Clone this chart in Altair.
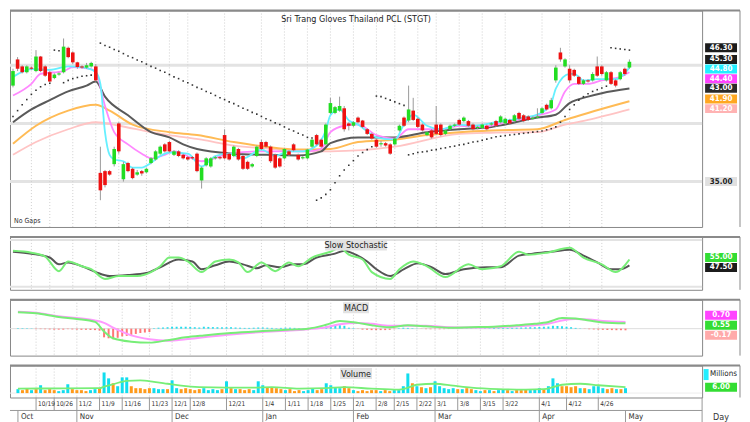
import altair as alt
import pandas as pd

TITLE = "Sri Trang Gloves Thailand PCL (STGT)"

# ---------------- candles ----------------
opens = [43.25, 45.5, 44.9, 44.4, 44.8, 44.5, 45.75, 44.9, 44.4, 43.9,
         44.2, 44.4, 46.5, 46.1, 45.25, 44.9, 44.8, 44.9, 44.9,
         35.75, 35.9, 35.9, 36.5, 40.0, 35.2, 36.6, 36.1, 35.6, 35.9, 35.8,
         36.6, 36.9, 37.4, 38.2, 38.4, 37.3, 37.6, 37.3, 37.1, 37.1,
         37.4, 35.1, 36.4, 36.3, 37.0, 37.1, 39.0, 37.4, 37.2, 37.8,
         37.2, 36.7, 36.3, 37.2, 38.4, 38.4, 38.0, 37.3, 37.0, 37.0,
         37.6, 38.2, 37.3, 37.0, 37.0, 38.0, 39.0, 38.6, 38.2, 40.9,
         40.9, 41.1, 41.3, 40.0, 39.8, 40.5, 40.25, 39.5, 39.1, 38.6,
         38.2, 38.3, 38.2, 38.2, 39.4, 40.5, 40.25, 41.1, 40.4, 39.9,
         39.0, 39.4, 39.9, 39.9, 39.1, 39.5, 39.8, 40.3, 40.2, 40.2,
         39.9, 39.6, 39.6, 39.8, 39.9, 40.2, 40.1, 40.0, 40.3, 40.2,
         40.9, 40.7, 40.6, 40.4, 40.5, 40.9, 41.6, 41.3, 43.7, 46.1,
         44.9, 44.7, 44.6, 44.0, 43.4, 43.7, 43.7, 44.9, 44.9, 43.7,
         44.4, 43.7, 43.8, 44.7, 44.8]
highs = [44.7, 45.7, 45.0, 45.0, 44.9, 46.3, 45.8, 45.0, 44.5, 44.3,
         44.4, 47.3, 46.6, 46.2, 45.3, 45.0, 45.2, 45.3, 45.1,
         38.0, 36.0, 36.0, 38.0, 40.1, 36.7, 36.7, 36.2, 36.0, 36.0, 36.2,
         37.1, 37.7, 38.1, 38.3, 38.5, 37.7, 37.7, 37.4, 37.2, 37.2,
         37.5, 36.3, 37.1, 37.1, 37.2, 37.2, 39.5, 37.5, 38.1, 37.9,
         37.3, 36.8, 36.6, 38.1, 38.6, 38.5, 38.1, 37.4, 37.1, 37.9,
         37.7, 38.3, 37.4, 37.2, 37.8, 38.7, 39.1, 38.7, 40.0, 42.2,
         41.5, 42.3, 41.5, 40.1, 40.2, 40.6, 40.3, 39.6, 39.2, 38.7,
         38.5, 38.4, 38.3, 38.8, 39.9, 40.6, 43.25, 42.2, 40.5, 40.0,
         39.35, 39.5, 41.5, 40.0, 39.5, 39.9, 40.0, 40.4, 40.6, 40.3,
         40.0, 39.8, 40.0, 39.9, 40.1, 40.3, 40.7, 40.5, 40.4, 40.8,
         41.0, 40.8, 40.7, 40.6, 41.3, 41.4, 41.7, 42.2, 45.0, 46.5,
         45.6, 45.0, 44.7, 44.1, 43.8, 43.8, 44.4, 45.75, 45.0, 44.5,
         44.5, 43.8, 44.5, 44.8, 45.5]
lows = [43.1, 44.5, 44.3, 44.3, 44.6, 44.4, 44.4, 44.0, 43.5, 43.8,
        44.1, 44.3, 45.6, 45.1, 44.7, 44.7, 44.7, 44.8, 43.6,
        33.4, 34.5, 35.5, 36.3, 37.4, 35.0, 35.8, 35.2, 35.5, 35.5, 35.7,
        36.5, 36.8, 37.3, 37.5, 37.5, 37.2, 37.1, 36.9, 36.8, 36.9,
        35.8, 34.4, 36.3, 36.2, 36.9, 36.9, 36.9, 36.8, 37.1, 36.8,
        36.0, 36.0, 36.2, 37.1, 37.7, 37.9, 36.6, 36.1, 36.2, 36.9,
        37.2, 37.6, 36.8, 36.9, 36.9, 37.9, 38.1, 37.9, 38.1, 40.8,
        40.8, 41.0, 39.3, 39.4, 39.7, 40.0, 39.6, 39.0, 38.6, 37.9,
        38.0, 38.0, 37.3, 38.1, 39.3, 39.7, 40.1, 40.2, 39.6, 39.3,
        38.9, 38.7, 39.0, 38.9, 39.0, 39.4, 39.7, 39.8, 40.1, 39.7,
        39.4, 39.5, 39.5, 39.4, 39.8, 39.7, 40.0, 39.9, 39.9, 40.1,
        40.3, 40.1, 40.2, 40.3, 40.4, 40.8, 41.1, 41.2, 43.5, 45.3,
        44.8, 43.5, 44.0, 43.3, 43.3, 43.5, 43.6, 44.0, 44.1, 43.6,
        43.3, 43.1, 43.7, 44.1, 44.7]
closes = [44.5, 44.7, 44.4, 44.9, 44.7, 45.75, 44.5, 44.1, 43.6, 44.2,
          44.3, 46.6, 45.7, 45.25, 44.85, 44.8, 45.0, 45.2, 43.7,
          34.25, 34.7, 35.6, 37.8, 37.6, 36.5, 35.9, 35.3, 35.8, 35.7, 36.1,
          37.0, 37.6, 38.0, 37.6, 37.6, 37.6, 37.2, 37.0, 36.9, 37.0,
          35.9, 36.2, 37.0, 37.0, 37.1, 37.0, 37.0, 36.9, 38.0, 36.9,
          36.1, 36.1, 36.5, 38.0, 37.8, 38.0, 36.75, 36.2, 36.3, 37.8,
          37.3, 37.7, 36.9, 37.1, 37.75, 38.6, 38.2, 38.0, 39.9, 41.75,
          41.4, 41.5, 39.5, 39.8, 40.1, 40.1, 39.7, 39.1, 38.7, 38.0,
          38.3, 38.1, 37.4, 38.7, 39.8, 39.8, 41.2, 40.3, 39.7, 39.4,
          39.25, 38.8, 39.1, 39.0, 39.4, 39.8, 39.9, 39.9, 40.5, 39.8,
          39.5, 39.7, 39.9, 39.5, 40.0, 39.8, 40.6, 40.4, 40.0, 40.7,
          40.4, 40.2, 40.3, 40.5, 40.6, 41.3, 41.2, 42.0, 44.8, 45.5,
          45.5, 43.7, 44.1, 43.4, 43.7, 43.6, 44.25, 44.1, 44.25, 44.4,
          43.4, 43.25, 44.4, 44.25, 45.3]

# parabolic SAR dots (None = no dot)
sar = [40.6, 41.1, 41.6, 42.05, 42.5, 42.85, 43.15, 43.35, 43.45,
       46.3, 46.25,
       43.5, 43.7, 43.85, 43.95, 44.05, 44.1, 44.15,
       None,
       46.9, 46.7, 46.55, 46.35, 46.2, 46.0, 45.8, 45.65, 45.45, 45.3,
       45.1, 44.9, 44.75, 44.55, 44.4, 44.2, 44.0, 43.85, 43.65, 43.5,
       43.3, 43.1, 42.95, 42.75, 42.6, 42.4, 42.2, 42.05, 41.85, 41.7,
       41.5, 41.3, 41.15, 40.95, 40.8, 40.6, 40.4, 40.25, 40.05, 39.9,
       39.7, 39.5, 39.35, 39.15, 39.0, 38.8, 38.75,
       33.4, 33.6, 33.9, 34.3, 34.9, 35.5, 36.0, 36.4, 36.8, 37.2, 37.5, 37.75, 38.0,
       42.35, 42.3, 42.15, 42.0, 41.85, 41.7, 41.55,
       37.3, 37.4, 37.5, 37.55, 37.6, 37.7, 37.75, 37.85, 37.9, 38.0,
       38.05, 38.15, 38.2, 38.3, 38.4, 38.45, 38.55, 38.65, 38.75,
       38.85, 38.9, 38.95, 39.0, 39.05, 39.1, 39.15, 39.2, 39.25, 39.3, 39.35, 39.45, 39.55,
       39.7, 40.1, 40.6, 41.2, 41.6, 42.0, 42.3, 42.55, 42.75, 42.9, 43.05, 43.2,
       46.5, 46.45, 46.4, 46.35, 46.3]

# moving averages (index, value)
cyan_idx = [0, 4, 8, 12, 15, 18, 19, 20, 21, 22, 24, 26, 28, 30, 32, 34, 38, 41, 44, 47,
            50, 54, 57, 60, 63, 66, 68, 69, 71, 73, 75, 79, 83, 85, 87, 90, 93, 97, 100, 105,
            111, 114, 117, 118, 121, 122, 124, 127, 131, 134]
cyan_val = [44.0, 44.67, 44.6, 44.9, 44.83, 44.4, 43.4, 39.25, 37.3, 36.9,
            36.75, 36.2, 36.2, 36.6, 37.2, 37.5, 37.4, 36.3, 37.2, 37.4,
            37.0, 37.75, 37.2, 37.6, 37.6, 38.1, 39.4, 40.7, 41.2, 40.25,
            39.9, 38.8, 38.6, 39.9, 40.75, 39.8, 39.5, 39.9, 39.8, 40.1,
            40.5, 40.75, 41.75, 43.0, 44.25, 44.25, 43.7, 43.8, 43.8, 44.8]
mag_idx = [0, 4, 6, 11, 13, 17, 18, 20, 22, 25, 28, 30, 33, 35, 41, 47, 54, 60, 64, 67,
           69, 72, 75, 79, 83, 86, 90, 93, 97, 102, 107, 114, 118, 120, 122, 125, 128, 132, 134]
mag_val = [42.4, 43.4, 44.25, 44.5, 44.83, 44.67, 44.4, 41.5, 39.25, 38.2,
           37.4, 37.0, 37.3, 37.6, 36.75, 37.4, 37.6, 37.6, 37.6, 37.8,
           39.25, 39.8, 39.9, 39.0, 38.7, 39.5, 39.5, 39.5, 39.8, 39.7,
           40.1, 40.7, 41.2, 42.75, 43.4, 43.4, 43.7, 44.0, 44.4]
gray_idx = [0, 4, 8, 12, 16, 18, 20, 25, 30, 34, 37, 40, 48, 55, 62, 67, 69, 75, 83, 90,
            97, 104, 114, 118, 121, 125, 128, 134]
gray_val = [40.1, 41.2, 42.0, 42.75, 43.25, 43.6, 42.3, 40.7, 39.25, 38.8,
            38.2, 37.8, 37.4, 37.3, 37.25, 37.6, 38.3, 38.8, 38.8, 39.25,
            39.5, 39.7, 40.5, 40.75, 41.75, 42.3, 42.6, 43.0]
orange_idx = [0, 5, 12, 18, 21, 26, 34, 40, 48, 55, 62, 69, 75, 83, 90, 97, 104, 114, 120, 125, 134]
orange_val = [38.25, 39.8, 41.1, 41.6, 41.1, 39.9, 39.25, 39.0, 38.4, 38.0,
              37.75, 37.8, 38.4, 38.6, 39.0, 39.25, 39.4, 39.5, 40.3, 40.9, 41.9]
pink_idx = [0, 5, 12, 18, 23, 30, 34, 41, 48, 55, 62, 69, 83, 97, 104, 114, 120, 125, 134]
pink_val = [37.3, 38.4, 39.5, 40.1, 39.8, 39.25, 39.0, 38.6, 38.1, 37.85,
            37.6, 37.6, 38.0, 39.1, 39.2, 39.25, 39.9, 40.3, 41.2]

# slow stochastic
k_idx = [0, 4, 7, 10, 12, 15, 17, 20, 23, 27, 30, 32, 34, 36, 38, 41, 44, 47, 49, 51,
         54, 57, 60, 62, 65, 69, 71, 73, 76, 78, 82, 84, 87, 90, 94, 99, 102, 106, 110, 112,
         116, 121, 124, 128, 131, 134]
k_val = [66.25, 63.75, 58.75, 40, 52.5, 46.25, 42.5, 30, 33.75, 33.75,
         38.75, 46.25, 57.5, 57.5, 52.5, 38.75, 52.5, 55, 51.25, 38.75,
         51.25, 40, 51.25, 46.25, 57.5, 65, 70, 61.25, 55, 38.75,
         30, 42.5, 52.5, 46.25, 32.5, 48.75, 42.5, 46.25, 65, 61.25,
         63.75, 70, 57.5, 48.75, 38.75, 55.0]
d_idx = [0, 4, 8, 10, 12, 15, 18, 21, 25, 29, 32, 36, 39, 41, 44, 47, 50, 53, 55, 58,
         61, 63, 66, 70, 72, 74, 77, 79, 82, 85, 88, 91, 94, 98, 103, 106, 110, 113, 117, 121,
         124, 127, 130, 132, 134]
d_val = [65, 62.5, 57.5, 48.75, 51.25, 46.25, 38.75, 33.75, 35, 37.5,
         45, 55, 52.5, 42.5, 47.5, 52.5, 48.75, 43.75, 47.5, 45,
         48.75, 48.75, 57.5, 62.5, 66.25, 62.5, 52.5, 42.5, 33.75, 42.5,
         50, 45, 36.25, 42.5, 45, 45, 60, 62.5, 65, 67.5,
         60, 51.25, 42.5, 42.5, 47.5]

# MACD
macd_idx = [0, 4, 9, 13, 17, 19, 21, 25, 29, 33, 37, 41, 47, 54, 60, 64, 68, 71, 75, 78,
            82, 86, 90, 95, 100, 105, 110, 114, 117, 120, 123, 126, 129, 134]
macd_val = [1.7, 1.6, 1.2, 1.0, 0.7, -0.3, -1.0, -1.35, -1.45, -1.2, -0.9, -0.7, -0.45, -0.25,
            -0.1, 0.0, 0.4, 0.8, 0.6, 0.35, 0.15, 0.35, 0.25, 0.1, 0.15, 0.2, 0.35, 0.5, 0.7,
            1.1, 1.05, 0.85, 0.65, 0.55]
signal_val = [1.75, 1.65, 1.3, 1.1, 0.85, 0.6, 0.1, -0.7, -1.1, -1.25, -1.1, -0.9, -0.6, -0.35,
              -0.2, -0.05, 0.15, 0.45, 0.6, 0.5, 0.3, 0.3, 0.3, 0.15, 0.12, 0.15, 0.25, 0.35, 0.5,
              0.85, 1.0, 0.95, 0.8, 0.7]
hist = [0.05, 0.05, 0.04, 0.03,
        -0.05, -0.05, -0.06, -0.08, -0.1, -0.1, -0.1, -0.05, -0.08, -0.1, -0.12, -0.12, -0.14, -0.15, -0.2,
        -0.9, -1.0, -1.1, -0.95, -0.8, -0.75, -0.65, -0.55, -0.45, -0.4, -0.35,
        0.05, 0.1, 0.12, 0.15, 0.2, 0.2, 0.2, 0.2, 0.18, 0.15, 0.12,
        0.2, 0.18, 0.16, 0.15, 0.14, 0.15, 0.15, 0.12, 0.1, 0.08, 0.08, 0.1,
        0.12, 0.12, 0.1, 0.08, 0.05, 0.08, 0.1, 0.1, 0.08, 0.05, 0.05, 0.05, 0.1,
        0.15, 0.2, 0.25, 0.3, 0.33, 0.35, 0.3,
        0.1, 0.05, -0.02, -0.1, -0.12, -0.15, -0.15, -0.15,
        -0.15, -0.12, -0.05, 0.05, 0.1, 0.08, 0.05, 0.02, -0.02, -0.05,
        -0.06, -0.05, -0.06, -0.05, -0.04, -0.02, 0.02, 0.02, 0.03, 0.03,
        0.02, 0.03, 0.04, 0.05, 0.06, 0.06, 0.07, 0.08, 0.09, 0.1,
        0.12, 0.13, 0.15, 0.15, 0.18, 0.2, 0.22, 0.3, 0.28, 0.25, 0.2, 0.15, 0.08, 0.03, -0.02,
        -0.06, -0.08, -0.1, -0.12, -0.14, -0.15, -0.16, -0.16, -0.17]

# volume (millions)
volumes = [4, 3, 5, 3, 4, 8, 3, 4, 3, 2, 3, 9, 4, 3, 3, 2, 3, 4, 5,
           21, 15, 10, 7, 16, 16, 7, 5, 5, 4, 5, 5, 4, 4, 4, 13, 5, 4, 5, 4, 3,
           4, 5, 3, 4, 3, 4, 12, 5, 4, 4, 3, 4, 3, 12, 8, 6, 6, 5, 4,
           3, 4, 2, 3, 2, 3, 5, 3, 4, 10, 8, 6, 5, 7, 5,
           3, 2, 3, 2, 3, 3, 2, 3, 2, 3, 3, 7, 20, 10, 7, 6, 5, 6, 12, 7,
           5, 4, 5, 4, 4, 5, 4, 3, 2, 3, 3, 2, 3, 4, 3, 2, 3, 3, 4, 3, 4,
           5, 4, 7, 15, 10, 7, 7, 6, 7, 5, 5, 4, 7, 7, 5, 4, 5, 4, 4, 5]
vol_force_up = [5, 11, 19, 20, 22, 23, 24, 30, 34, 46, 53, 54, 65, 68, 69, 85, 86, 88, 92, 93,
                115, 117, 118, 119, 127, 128, 134]
vol_force_down = [21, 25, 26, 27, 28, 29, 87, 120, 121, 122, 123]
volma_idx = [0, 10, 18, 19, 21, 24, 27, 30, 33, 36, 40, 46, 52, 56, 62, 68, 72, 78, 84, 86,
             88, 92, 96, 100, 106, 112, 116, 118, 120, 124, 128, 134]
volma_val = [4.5, 4.8, 5, 6.5, 9, 12.5, 13, 11.5, 9.5, 7.5, 6, 5.5, 5.5, 6, 4.5, 5, 6, 4.5, 3.5, 5.5,
             8.5, 9.5, 7.5, 5.5, 4, 3.5, 4, 6, 8.5, 9.5, 8, 6]

# date axis
week_idx = [4, 8, 13, 18, 23, 29, 34, 38, 46, 54, 59, 64, 69, 74, 79, 83, 88, 92, 97, 102, 107, 115, 121, 128]
week_lbl = ["10/19", "10/26", "11/2", "11/9", "11/16", "11/23", "12/1", "12/8", "12/21", "1/4", "1/11",
            "1/18", "1/25", "2/1", "2/8", "2/15", "2/22", "3/1", "3/8", "3/15", "3/22", "4/1", "4/12", "4/26"]
month_idx = [0, 13, 34, 54, 74, 92, 115, 134]
month_lbl = ["Oct", "Nov", "Dec", "Jan", "Feb", "Mar", "Apr", "May"]

# ---------------- helpers ----------------
N = len(closes)
W = 694
RW = 38  # right label strip
FONT = "Liberation Sans Narrow, DejaVu Sans Condensed, Liberation Sans, sans-serif"
XS = alt.Scale(domain=[-0.65, 149.8], nice=False, zero=False)
GREEN, RED = "#22dd22", "#ee1111"

df = pd.DataFrame({"i": list(range(N)), "o": opens, "h": highs, "l": lows, "c": closes,
                   "v": volumes, "hist": hist, "sar": sar})
df["col"] = [GREEN if c >= o else RED for o, c in zip(opens, closes)]
vcol = []
for k, (o, c) in enumerate(zip(opens, closes)):
    up = c >= o
    if k in vol_force_up:
        up = True
    if k in vol_force_down:
        up = False
    vcol.append("#11ddee" if up else "#ff9a1a")
df["vcol"] = vcol
df["hcol"] = ["#22ddee" if h >= 0 else "#ff7777" for h in hist]
weeks = pd.DataFrame({"i": week_idx, "lbl": week_lbl})
months = pd.DataFrame({"i": month_idx, "lbl": month_lbl})
ONE = pd.DataFrame({"a": [0]})


def X():
    return alt.X("i:Q", scale=XS, axis=None)


def box_shape(w, h):
    r = round(h / w, 4)
    return f"M-1,-{r}H1V{r}H-1Z", w * w


def spread(vals, gap):
    order = sorted(range(len(vals)), key=lambda k: -vals[k])
    pos = [0.0] * len(vals)
    prev = None
    for k in order:
        p = vals[k] if prev is None else min(vals[k], prev - gap)
        pos[k] = p
        prev = p
    shift = (sum(vals) - sum(pos)) / len(vals)
    return [p + shift for p in pos]


def value_boxes(vals, colors, ys, gap, texts=None, tcolors=None, do_spread=True):
    pos = spread(vals, gap) if do_spread else list(vals)
    d = pd.DataFrame({"pos": pos, "col": colors,
                      "txt": texts or [f"{v:.2f}" for v in vals],
                      "tc": tcolors or ["white"] * len(vals)})
    shape, size = box_shape(32, 9)
    bg = alt.Chart(d).mark_point(shape=shape, size=size, filled=True, opacity=1, strokeWidth=0).encode(
        x=alt.value(W + 19), y=alt.Y("pos:Q", scale=ys, axis=None),
        color=alt.Color("col:N", scale=None))
    tx = alt.Chart(d).mark_text(fontSize=8, font=FONT, fontWeight="bold").encode(
        x=alt.value(W + 19), y=alt.Y("pos:Q", scale=ys, axis=None),
        text="txt:N", color=alt.Color("tc:N", scale=None))
    return [bg, tx]


def line(idx, vals, ys, color, width=1.8):
    d = pd.DataFrame({"i": idx, "v": vals})
    return alt.Chart(d).mark_line(color=color, strokeWidth=width, interpolate="monotone").encode(
        x=X(), y=alt.Y("v:Q", scale=ys, axis=None))


def vgrid():
    return alt.Chart(weeks).mark_rule(color="#cfcfcf", strokeDash=[1, 2], strokeWidth=1).encode(x=X())


def frame(H):
    top = alt.Chart(ONE).mark_rule(color="#8a8a8a", strokeWidth=2).encode(
        x=alt.value(0), x2=alt.value(W + RW), y=alt.value(0))
    right = alt.Chart(ONE).mark_rule(color="#8a8a8a", strokeWidth=1).encode(
        x=alt.value(W + RW), y=alt.value(0), y2=alt.value(H))
    return [top, right]


def panel_title(text, width, bg=True):
    d = pd.DataFrame({"t": [text]})
    layers = []
    if bg:
        shape, size = box_shape(width, 11)
        layers.append(alt.Chart(d).mark_point(shape=shape, size=size, filled=True, opacity=1,
                                              strokeWidth=0, color="#e2e2e2").encode(
            x=alt.value(W / 2), y=alt.value(8)))
    layers.append(alt.Chart(d).mark_text(fontSize=9, font=FONT, color="#222").encode(
        x=alt.value(W / 2), y=alt.value(8), text="t:N"))
    return layers


def right_axis(values):
    return alt.Axis(orient="right", values=values, tickSize=2, tickColor="#999", domainColor="#999",
                    labels=False, title=None, grid=False)


# ---------------- main price panel ----------------
HM = 217
YM = alt.Scale(domain=[31.1, 49.7], nice=False, zero=False)
hgrid = alt.Chart(pd.DataFrame({"y": [35, 40, 45]})).mark_rule(color="#e3e3e3", strokeWidth=3).encode(
    y=alt.Y("y:Q", scale=YM, axis=right_axis([31.5 + 0.5 * k for k in range(36)])))
wicks = alt.Chart(df).mark_rule(color="#9a9a9a", strokeWidth=1).encode(
    x=X(), y=alt.Y("l:Q", scale=YM, axis=None), y2="h:Q")
bodies = alt.Chart(df).mark_rule(strokeWidth=3.6, strokeCap="butt").encode(
    x=X(), y=alt.Y("o:Q", scale=YM, axis=None), y2="c:Q", color=alt.Color("col:N", scale=None))
sar_dots = alt.Chart(df.dropna(subset=["sar"])).mark_square(size=2.5, color="#333", opacity=1).encode(
    x=X(), y=alt.Y("sar:Q", scale=YM, axis=None))
nogaps = alt.Chart(pd.DataFrame({"t": ["No Gaps"]})).mark_text(
    fontSize=7, font=FONT, color="#333", align="left").encode(
    x=alt.value(4), y=alt.value(HM - 6), text="t:N")

main_vals = [sar[-1], closes[-1], cyan_val[-1], mag_val[-1], gray_val[-1], orange_val[-1], pink_val[-1]]
main_cols = ["#1c1c1c", "#1c1c1c", "#22eeff", "#ff44ff", "#2a2a2a", "#ffa722", "#ffb3b3"]
main = alt.layer(
    hgrid, vgrid(),
    line(pink_idx, pink_val, YM, "#ffc4c4"),
    line(orange_idx, orange_val, YM, "#ffbb55", 2),
    line(gray_idx, gray_val, YM, "#5a5a5a", 2),
    line(mag_idx, mag_val, YM, "#ff88ff"),
    line(cyan_idx, cyan_val, YM, "#66f0ff"),
    sar_dots, wicks, bodies, nogaps,
    *panel_title(TITLE, 170, bg=False),
    *value_boxes(main_vals, main_cols, YM, 9.6 / (HM / 18.6)),
    *value_boxes([35.0], ["#e0e0e0"], YM, 1, tcolors=["#222"], do_spread=False),
    *frame(HM),
).properties(width=W, height=HM)

# ---------------- stochastic panel ----------------
HS = 53
YSt = alt.Scale(domain=[16, 84], nice=False, zero=False)
st_grid = alt.Chart(pd.DataFrame({"y": [20, 80]})).mark_rule(color="#e3e3e3", strokeWidth=2).encode(
    y=alt.Y("y:Q", scale=YSt, axis=right_axis([20 + 6 * k for k in range(11)])))
stoch = alt.layer(
    st_grid, vgrid(),
    line(d_idx, d_val, YSt, "#555555", 2),
    line(k_idx, k_val, YSt, "#77ee77", 2),
    *panel_title("Slow Stochastic", 62),
    *value_boxes([k_val[-1], d_val[-1]], ["#33dd33", "#1c1c1c"], YSt, 10 / (HS / 68)),
    *frame(HS),
).properties(width=W, height=HS)

# ---------------- MACD panel ----------------
HD = 56
YMa = alt.Scale(domain=[-2.8, 3.0], nice=False, zero=False)
zero = alt.Chart(pd.DataFrame({"y": [0]})).mark_rule(color="#dddddd", strokeWidth=1).encode(
    y=alt.Y("y:Q", scale=YMa, axis=right_axis([-2.5 + 0.5 * k for k in range(12)])))
hbars = alt.Chart(df).mark_bar(size=2).encode(
    x=X(), y=alt.Y("hist:Q", scale=YMa, axis=None), color=alt.Color("hcol:N", scale=None))
macd = alt.layer(
    zero, vgrid(), hbars,
    line(macd_idx, signal_val, YMa, "#ff99ff", 2),
    line(macd_idx, macd_val, YMa, "#77ee77", 2),
    *panel_title("MACD", 26),
    *value_boxes([signal_val[-1], macd_val[-1], hist[-1]], ["#ff44ff", "#33dd33", "#ffaaaa"],
                 YMa, 10 / (HD / 5.8)),
    *frame(HD),
).properties(width=W, height=HD)

# ---------------- volume panel + date axis ----------------
HV = 32
YV = alt.Scale(domain=[-4.5, 28], nice=False, zero=False)
vgr = alt.Chart(pd.DataFrame({"y": [0]})).mark_rule(color="#eeeeee", strokeWidth=1).encode(
    y=alt.Y("y:Q", scale=YV, axis=right_axis([0, 5, 10, 15, 20, 25])))
vbars = alt.Chart(df).mark_bar(size=3).encode(
    x=X(), y=alt.Y("v:Q", scale=YV, axis=None), color=alt.Color("vcol:N", scale=None))
volma = line(volma_idx, volma_val, YV, "#77ee77", 1.8)
mill = alt.Chart(pd.DataFrame({"t": ["Millions"]})).mark_text(
    fontSize=8, font=FONT, color="#222", align="left").encode(
    x=alt.value(W + 8), y=alt.value(8), text="t:N")
mill_mark = alt.Chart(ONE).mark_point(
    shape=box_shape(5, 11)[0], size=25, filled=True, opacity=1, strokeWidth=0, color="#22eeff").encode(
    x=alt.value(W + 4), y=alt.value(9))
AX1, AX2 = HV + 13, HV + 27
week_ticks = alt.Chart(weeks).mark_rule(color="#999").encode(x=X(), y=alt.value(HV), y2=alt.value(AX1))
week_text = alt.Chart(weeks).mark_text(fontSize=6.5, font=FONT, color="#333", align="left", dx=2).encode(
    x=X(), y=alt.value(HV + 7), text="lbl:N")
month_ticks = alt.Chart(months).mark_rule(color="#999").encode(x=X(), y=alt.value(AX1), y2=alt.value(AX2))
month_text = alt.Chart(months).mark_text(fontSize=8, font=FONT, color="#333", align="left", dx=3).encode(
    x=X(), y=alt.value(HV + 20), text="lbl:N")
sep = alt.Chart(ONE).mark_rule(color="#999").encode(x=alt.value(0), x2=alt.value(W), y=alt.value(AX1))
rend = alt.Chart(ONE).mark_rule(color="#999").encode(x=alt.value(W), y=alt.value(HV), y2=alt.value(AX2))
daytxt = alt.Chart(pd.DataFrame({"t": ["Day"]})).mark_text(fontSize=9, font=FONT, color="#333").encode(
    x=alt.value(W + 19), y=alt.value(HV + 20), text="t:N")
vol = alt.layer(
    vgr, vgrid(), vbars, volma,
    *panel_title("Volume", 32),
    mill_mark, mill,
    *value_boxes([volma_val[-1]], ["#33dd33"], YV, 1),
    week_ticks, week_text, month_ticks, month_text, sep, rend, daytxt,
    *frame(HV),
).properties(width=W, height=HV)

chart = alt.vconcat(main, stoch, macd, vol, spacing=7).properties(
    padding=0, background="white"
).configure_view(stroke="#888", strokeWidth=1)

chart.save("out.html", embed_options={"renderer": "svg", "actions": False})
